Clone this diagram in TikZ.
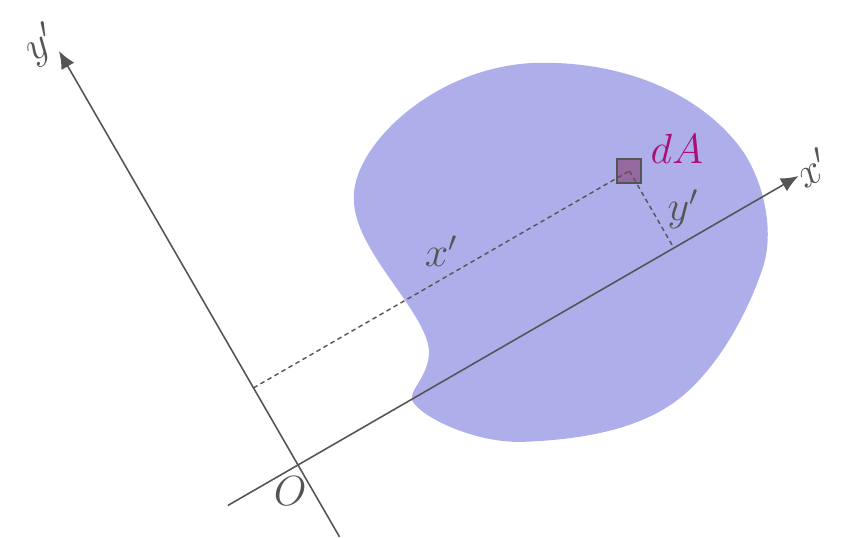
\documentclass[tikz,border=0pt]{standalone}
\usepackage{tikz}
\usetikzlibrary{arrows.meta,positioning}
\definecolor{regionfill}{RGB}{174,174,235}
\definecolor{axisgray}{RGB}{85,85,85}
\definecolor{elemfill}{RGB}{150,105,160}
\definecolor{elemtext}{RGB}{170,15,115}
\begin{document}
\begin{tikzpicture}
	[axis/.style={draw=axisgray,line width=0.45pt,-{Latex[length=5pt,width=4.2pt]}},
	 proj/.style={draw=axisgray,dash pattern=on 1.3pt off 1pt,line width=0.4pt},
	 lbl/.style={text=axisgray,font=\large},
	 elem/.style={shape=rectangle,draw=axisgray,fill=elemfill,minimum size=0.24cm,inner sep=0pt,line width=0.5pt}]
	\useasboundingbox (0,0) rectangle (8.57,5.38);
	% the area
	\fill[regionfill] (3.54,3.38)
	.. controls (3.50,3.88) and (4.30,4.70) .. (5.33,4.75)
	.. controls (6.20,4.78) and (7.00,4.46) .. (7.42,3.88)
	.. controls (7.65,3.55) and (7.75,3.03) .. (7.62,2.68)
	.. controls (7.45,2.18) and (7.15,1.68) .. (6.80,1.40)
	.. controls (6.40,1.08) and (5.80,0.98) .. (5.20,0.96)
	.. controls (4.70,0.96) and (4.18,1.23) .. (4.12,1.38)
	.. controls (4.09,1.48) and (4.30,1.63) .. (4.29,1.88)
	.. controls (4.25,2.28) and (3.54,2.88) .. (3.54,3.38) -- cycle;
	
	\begin{scope}[shift={(2.98,0.73)},rotate=30]
	\coordinate (O) at (0,0);
	\coordinate (xs) at (-0.81,0);
	\coordinate (xe) at (5.78,0);
	\coordinate (ys) at (0,-0.83);
	\coordinate (ye) at (0,4.78);
	\coordinate (fx) at (4.34,0);
	\coordinate (fy) at (0,0.89);
	
	\path[axis] (xs) -- (xe);
	\path[axis] (ys) -- (ye);
	\node [lbl,rotate=30] (xlbl) at (5.94,0) {$x'$};
	\node [lbl,rotate=30] (ylbl) at (-0.12,4.92) {$y'$};
	\node [lbl] (Olbl) at (-0.2,-0.19) {$O$};
	
	\node [elem] (dA) at (4.34,0.89) {};
	\node [lbl,text=elemtext] (dAlbl) at (4.86,0.84) {$dA$};
	
	\path[proj] (fy) -- node[lbl,above] (xd) {$x'$} (dA.center);
	\path[proj] (dA.center) -- node[lbl,right=1pt] (yd) {$y'$} (fx);
	\end{scope}
	
\end{tikzpicture}
\end{document}
